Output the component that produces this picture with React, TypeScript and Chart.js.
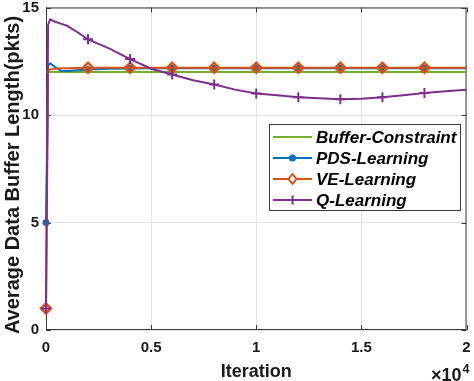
import React, { useEffect, useRef } from "react";
import { Chart, registerables } from "chart.js";

Chart.register(...registerables);

const ITER = [0, 100, 200, 400, 700, 1000, 1500, 2000, 3000, 4000, 5000, 6000, 7000, 8000, 9000, 10000, 11000, 12000, 13000, 14000, 15000, 16000, 17000, 18000, 19000, 20000];
const BUFFER_CONSTRAINT = ITER.map(() => 12);
const PDS_LEARNING = [5, 12.3, 12.4, 12.25, 12.06, 12.05, 12.08, 12.12, 12.15, 12.16, 12.17, 12.17, 12.17, 12.17, 12.17, 12.17, 12.17, 12.17, 12.17, 12.17, 12.17, 12.17, 12.17, 12.17, 12.17, 12.17];
const VE_LEARNING = [1, 12.1, 12.12, 12.15, 12.17, 12.18, 12.19, 12.2, 12.2, 12.2, 12.2, 12.2, 12.2, 12.2, 12.2, 12.2, 12.2, 12.2, 12.2, 12.2, 12.2, 12.2, 12.2, 12.2, 12.2, 12.2];
const Q_LEARNING = [1, 14.2, 14.45, 14.35, 14.25, 14.15, 13.85, 13.52, 13.1, 12.6, 12.15, 11.88, 11.62, 11.42, 11.18, 11.0, 10.92, 10.83, 10.78, 10.73, 10.76, 10.83, 10.92, 11.02, 11.1, 11.18];
const MARKER_STEP = 2000;
const MARKER_LAST = 18000;
const X_TICKS = [0, 5000, 10000, 15000, 20000];
const Y_TICKS = [0, 5, 10, 15];
const SERIES_NAMES = ["Buffer-Constraint", "PDS-Learning", "VE-Learning", "Q-Learning"];
const Y_TITLE = "Average Data Buffer Length(pkts)";
const X_TITLE = "Iteration";

const GREEN = "#77AC30";
const BLUE = "#0072BD";
const ORANGE = "#D95319";
const PURPLE = "#7E2F8E";
const AXIS = "#3a3a3a";
const FONT = "'Liberation Sans', Arial, sans-serif";

const isMarker = (i: number) => ITER[i] % MARKER_STEP === 0 && ITER[i] <= MARKER_LAST;

const overlay = {
  id: "matlabOverlay",
  beforeDatasetsDraw(chart: any) {
    const { ctx, chartArea } = chart;
    const { left, right, top, bottom } = chartArea;
    ctx.save();
    ctx.strokeStyle = AXIS;
    ctx.lineWidth = 1;
    ctx.strokeRect(left + 0.5, top + 0.5, right - left - 1, bottom - top - 1);
    const xs = chart.scales.x;
    const ys = chart.scales.y;
    const tl = 5;
    ctx.beginPath();
    X_TICKS.forEach((v) => {
      const px = Math.round(xs.getPixelForValue(v)) + 0.5;
      ctx.moveTo(px, bottom);
      ctx.lineTo(px, bottom - tl);
      ctx.moveTo(px, top);
      ctx.lineTo(px, top + tl);
    });
    Y_TICKS.forEach((v) => {
      const py = Math.round(ys.getPixelForValue(v)) + 0.5;
      ctx.moveTo(left, py);
      ctx.lineTo(left + tl, py);
      ctx.moveTo(right, py);
      ctx.lineTo(right - tl, py);
    });
    ctx.stroke();
    ctx.restore();
  },
  afterDraw(chart: any) {
    const { ctx } = chart;
    ctx.save();
    // y-axis title
    ctx.save();
    ctx.translate(13, 175);
    ctx.rotate(-Math.PI / 2);
    ctx.fillStyle = "#1a1a1a";
    ctx.font = `bold 20px ${FONT}`;
    ctx.textAlign = "center";
    ctx.textBaseline = "middle";
    ctx.fillText(Y_TITLE, 0, 0);
    ctx.restore();
    // legend box
    const bx = 269.5, by = 124.5, bw = 191, bh = 86;
    ctx.fillStyle = "#ffffff";
    ctx.fillRect(bx, by, bw, bh);
    ctx.strokeStyle = AXIS;
    ctx.lineWidth = 1;
    ctx.strokeRect(bx, by, bw, bh);
    const colors = [GREEN, BLUE, ORANGE, PURPLE];
    const rowY = [137, 158, 179, 200];
    ctx.font = `italic bold 17px ${FONT}`;
    ctx.textBaseline = "middle";
    ctx.textAlign = "left";
    SERIES_NAMES.forEach((name, i) => {
      const y = rowY[i];
      ctx.strokeStyle = colors[i];
      ctx.lineWidth = 2;
      ctx.beginPath();
      ctx.moveTo(273, y);
      ctx.lineTo(312, y);
      ctx.stroke();
      const mx = 292.5;
      if (i === 1) {
        ctx.fillStyle = BLUE;
        ctx.beginPath();
        ctx.arc(mx, y, 3.5, 0, Math.PI * 2);
        ctx.fill();
      } else if (i === 2) {
        ctx.fillStyle = "#ffffff";
        ctx.strokeStyle = ORANGE;
        ctx.lineWidth = 2;
        ctx.beginPath();
        ctx.moveTo(mx, y - 5);
        ctx.lineTo(mx + 4, y);
        ctx.lineTo(mx, y + 5);
        ctx.lineTo(mx - 4, y);
        ctx.closePath();
        ctx.fill();
        ctx.stroke();
      } else if (i === 3) {
        ctx.strokeStyle = PURPLE;
        ctx.lineWidth = 2;
        ctx.beginPath();
        ctx.moveTo(mx, y - 4.5);
        ctx.lineTo(mx, y + 4.5);
        ctx.stroke();
      }
      ctx.fillStyle = "#000000";
      ctx.fillText(name, 316, y + 1);
    });
    // x10^4 exponent label
    ctx.fillStyle = "#1a1a1a";
    ctx.font = `bold 18px ${FONT}`;
    ctx.textBaseline = "alphabetic";
    ctx.fillText("\u00d710", 431, 381);
    ctx.font = `bold 12.5px ${FONT}`;
    ctx.fillText("4", 462.5, 373);
    ctx.restore();
  },
};

export default function App() {
  const ref = useRef<HTMLCanvasElement | null>(null);
  useEffect(() => {
    if (!ref.current) return;
    const pts = (arr: number[]) => ITER.map((x, i) => ({ x, y: arr[i] }));
    const chart = new Chart(ref.current, {
      type: "line",
      data: {
        datasets: [
          {
            label: SERIES_NAMES[0],
            data: pts(BUFFER_CONSTRAINT),
            borderColor: GREEN,
            borderWidth: 2,
            pointRadius: 0,
            order: 3,
            clip: false as any,
          },
          {
            label: SERIES_NAMES[1],
            data: pts(PDS_LEARNING),
            borderColor: BLUE,
            backgroundColor: BLUE,
            borderWidth: 2,
            pointStyle: "circle",
            pointRadius: (c: any) => (isMarker(c.dataIndex) ? 3.5 : 0),
            pointBorderWidth: 0,
            order: 2,
            clip: false as any,
          },
          {
            label: SERIES_NAMES[2],
            data: pts(VE_LEARNING),
            borderColor: ORANGE,
            backgroundColor: "rgba(0,0,0,0)",
            borderWidth: 2,
            pointStyle: "rectRot",
            pointRadius: (c: any) => (isMarker(c.dataIndex) ? 5 : 0),
            pointBorderWidth: 2.5,
            order: 1,
            clip: false as any,
          },
          {
            label: SERIES_NAMES[3],
            data: pts(Q_LEARNING),
            borderColor: PURPLE,
            backgroundColor: PURPLE,
            borderWidth: 2,
            pointStyle: "cross",
            pointRadius: (c: any) => (isMarker(c.dataIndex) ? 5 : 0),
            pointBorderWidth: 2,
            order: 0,
            clip: false as any,
          },
        ],
      },
      options: {
        animation: false,
        responsive: false,
        devicePixelRatio: 1,
        layout: { padding: { left: 0, right: 4, top: 6, bottom: 0 } },
        elements: { line: { tension: 0 } },
        plugins: { legend: { display: false }, tooltip: { enabled: false } },
        scales: {
          x: {
            type: "linear",
            min: 0,
            max: 20000,
            afterBuildTicks: (s: any) => {
              s.ticks = X_TICKS.map((v) => ({ value: v }));
            },
            afterFit: (s: any) => {
              s.height = 51;
              s.paddingLeft = 0;
              s.paddingRight = 0;
            },
            ticks: {
              callback: (v: any) => String(Number(v) / 10000),
              font: { family: FONT, size: 15, weight: "bold" },
              color: "#1a1a1a",
              padding: 9,
              maxRotation: 0,
              autoSkip: false,
            },
            grid: { color: "#e3e3e3", drawTicks: false },
            border: { display: false },
            title: {
              display: true,
              text: X_TITLE,
              font: { family: FONT, size: 18, weight: "bold" },
              color: "#1a1a1a",
              padding: { top: 0, bottom: -2 },
            },
          },
          y: {
            type: "linear",
            min: 0,
            max: 15,
            afterBuildTicks: (s: any) => {
              s.ticks = Y_TICKS.map((v) => ({ value: v }));
            },
            afterFit: (s: any) => {
              s.width = 46;
              s.paddingTop = 0;
              s.paddingBottom = 0;
            },
            ticks: {
              font: { family: FONT, size: 15, weight: "bold" },
              color: "#1a1a1a",
              padding: 7,
              autoSkip: false,
            },
            grid: { color: "#e3e3e3", drawTicks: false },
            border: { display: false },
            title: { display: false },
          },
        },
      },
      plugins: [overlay],
    } as any);
    return () => chart.destroy();
  }, []);
  return (
    <div style={{ position: "absolute", left: 0, top: 0, width: 474, height: 381 }}>
      <canvas ref={ref} width={474} height={381} style={{ display: "block" }} />
    </div>
  );
}
